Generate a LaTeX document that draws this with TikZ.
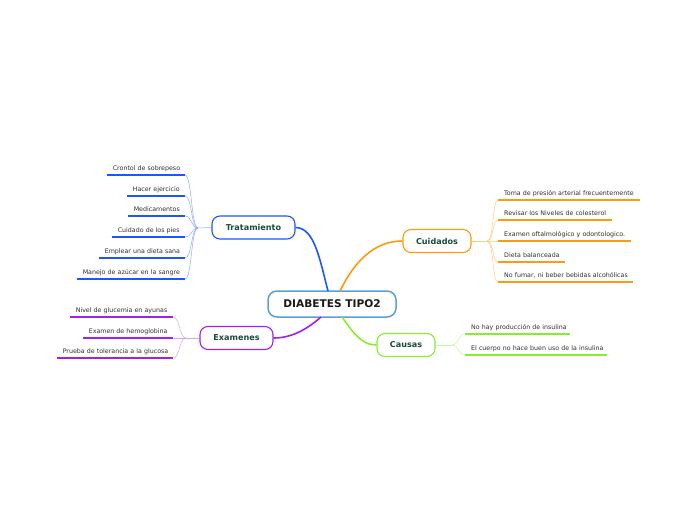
\documentclass[tikz,border=0pt]{standalone}
\usepackage{fontspec}
\setmainfont{DejaVu Sans}
\definecolor{cmain}{HTML}{5B9FD6}
\definecolor{cblue}{HTML}{1F55FF}
\definecolor{lblue}{HTML}{8FA9FF}
\definecolor{corange}{HTML}{FF9A0A}
\definecolor{lorange}{HTML}{FFCC80}
\definecolor{cpurple}{HTML}{A020F0}
\definecolor{lpurple}{HTML}{D8A4F8}
\definecolor{cgreen}{HTML}{88EE2A}
\definecolor{lgreen}{HTML}{C4F59A}
\definecolor{tgreen}{HTML}{1C4A3C}
\definecolor{tgray}{HTML}{2E2E2E}
\begin{document}
\begin{tikzpicture}[x=1pt,y=-1pt,
  mainbox/.style={draw=cmain, line width=1.5pt, rounded corners=9pt, fill=white,
    minimum width=128pt, minimum height=26pt, inner sep=0pt,
    font=\fontsize{10.6}{12}\selectfont\bfseries, text=black!90},
  topic/.style={rounded corners=8pt, line width=1.1pt, fill=white, minimum height=23pt,
    inner sep=0pt, font=\fontsize{8.1}{9}\selectfont\bfseries, text=tgreen},
  leafl/.style={anchor=south east, align=right, inner xsep=6pt, inner ysep=2.5pt,
    text depth=1.5pt, font=\fontsize{6.3}{7}\selectfont, text=tgray},
  leafr/.style={anchor=south west, align=left, inner xsep=6pt, inner ysep=2.5pt,
    text depth=1.5pt, font=\fontsize{6.3}{7}\selectfont, text=tgray},
  uline/.style={line width=1.3pt},
  twig/.style={line width=0.5pt},
  branch/.style={line width=1.6pt}
]
\useasboundingbox (0,0) rectangle (697,520);

% main and topics
\node[mainbox] (main) at (332,304) {DIABETES TIPO2};
\node[topic, draw=cblue, minimum width=83pt] (tra) at (253.5,227.5) {Tratamiento};
\node[topic, draw=corange, minimum width=68pt] (cui) at (437,241) {Cuidados};
\node[topic, draw=cpurple, minimum width=73pt] (exa) at (236.5,338) {Examenes};
\node[topic, draw=cgreen, minimum width=58pt] (cau) at (406,345) {Causas};

% branches
\coordinate (mb) at (328,291);
\coordinate (mo) at (340,291);
\coordinate (mp) at (321,317);
\coordinate (mg) at (342,317);
\draw[branch, cblue] (mb) .. controls (319,256) and (314,228) .. (tra.east);
\draw[branch, corange] (mo) .. controls (354,262) and (374,241) .. (cui.west);
\draw[branch, cpurple] (mp) .. controls (305,331) and (290,338) .. (exa.east);
\draw[branch, cgreen] (mg) .. controls (354,334) and (362,345) .. (cau.west);

% hubs
\coordinate (th) at (198,228);
\coordinate (ch) at (487,241);
\coordinate (eh) at (186,338);
\coordinate (gh) at (452,345);
\draw[twig, lblue] (tra.west) -- (th);
\draw[twig, lorange] (cui.east) -- (ch);
\draw[twig, lpurple] (exa.west) -- (eh);
\draw[twig, lgreen] (cau.east) -- (gh);

% Tratamiento leaves
\foreach \n/\y/\xl/\t in {
  t1/175/107/{Crontol de sobrepeso},
  t2/196/127/{Hacer ejercicio},
  t3/216/128/{Medicamentos},
  t4/237/112/{Cuidado de los pies},
  t5/258/99/{Emplear una dieta sana},
  t6/279/77/{Manejo de azúcar en la sangre}}{
  \node[leafl, text width=185-\xl-12] (\n) at (185,\y) {\mbox{\t}};
  \draw[uline, cblue] (\n.south west) -- (\n.south east);
  \draw[twig, lblue] (th) .. controls (191,228) and (192,\y) .. (\n.south east);
}

% Cuidados leaves
\foreach \n/\y/\xr/\t in {
  c1/200/640/{Toma de presión arterial frecuentemente},
  c2/220/612/{Revisar los Niveles de colesterol},
  c3/241/631/{Examen oftalmológico y odontologico.},
  c4/262/565/{Dieta balanceada},
  c5/282/633/{No fumar, ni beber bebidas alcohólicas}}{
  \node[leafr, text width=\xr-498-12] (\n) at (498,\y) {\mbox{\t}};
  \draw[uline, corange] (\n.south west) -- (\n.south east);
  \draw[twig, lorange] (ch) .. controls (494,241) and (492,\y) .. (\n.south west);
}

% Examenes leaves
\foreach \n/\y/\xl/\t in {
  e1/317/70/{Nivel de glucemia en ayunas},
  e2/338/83/{Examen de hemoglobina},
  e3/358/57/{Prueba de tolerancia a la glucosa}}{
  \node[leafl, text width=173-\xl-12] (\n) at (173,\y) {\mbox{\t}};
  \draw[uline, cpurple] (\n.south west) -- (\n.south east);
  \draw[twig, lpurple] (eh) .. controls (179,338) and (180,\y) .. (\n.south east);
}

% Causas leaves
\foreach \n/\y/\xr/\t in {
  g1/334/570/{No hay producción de insulina},
  g2/355/607/{El cuerpo no hace buen uso de la insulina}}{
  \node[leafr, text width=\xr-465-12] (\n) at (465,\y) {\mbox{\t}};
  \draw[uline, cgreen] (\n.south west) -- (\n.south east);
  \draw[twig, lgreen] (gh) .. controls (459,345) and (458,\y) .. (\n.south west);
}
\end{tikzpicture}
\end{document}
